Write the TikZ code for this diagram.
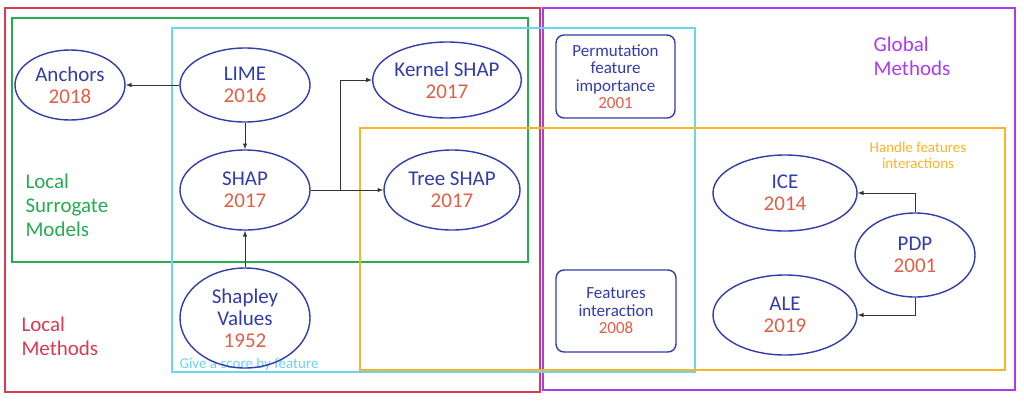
\documentclass[tikz,border=0pt]{standalone}
\usepackage{fontspec}
\setmainfont{Carlito}
\usetikzlibrary{shapes.geometric}
\definecolor{nodeblue}{RGB}{50,60,170}
\definecolor{yearred}{RGB}{225,95,70}
\definecolor{localred}{RGB}{215,60,80}
\definecolor{globalpurple}{RGB}{170,60,240}
\definecolor{surrgreen}{RGB}{40,170,80}
\definecolor{scorecyan}{RGB}{110,210,240}
\definecolor{interorange}{RGB}{250,180,40}
\newcommand{\yr}[1]{\\{\color{yearred}#1}}
\tikzset{
  method/.style={ellipse,draw=nodeblue,line width=1.4pt,text=nodeblue,align=center,
    inner sep=0pt,font=\fontsize{21}{22}\selectfont},
  methodbox/.style={rectangle,rounded corners=8pt,draw=nodeblue,line width=1.4pt,text=nodeblue,
    align=center,inner sep=0pt,font=\fontsize{17}{17.5}\selectfont},
  area/.style={line width=1.4pt},
  arealabel/.style={align=left,font=\fontsize{21}{24}\selectfont},
  link/.style={->,>=latex,line width=1pt,black!80}
}
\begin{document}
\begin{tikzpicture}[x=1pt,y=-1pt]
  \useasboundingbox (0,0) rectangle (1024,402);
  \fill[white] (0,0) rectangle (1024,402);

  % les zones
  \draw[area,localred] (5,8) rectangle (540,392);
  \draw[area,globalpurple] (543,8) rectangle (1015,390);
  \draw[area,surrgreen] (12,18) rectangle (528,262);
  \draw[area,scorecyan] (172,28) rectangle (695,372);
  \draw[area,interorange] (360,128) rectangle (1005,370);

  % les textes des zones
  \node[arealabel,text=surrgreen,anchor=west] (surr) at (22,205) {Local\\Surrogate\\Models};
  \node[arealabel,text=localred,anchor=west] (local) at (18,336) {Local\\Methods};
  \node[arealabel,text=globalpurple] (global) at (912,56) {Global\\Methods};
  \node[align=center,text=interorange,font=\fontsize{15}{16}\selectfont] (handle) at (918,155) {Handle features\\interactions};
  \node[text=scorecyan,font=\fontsize{15}{16}\selectfont,anchor=west] (score) at (176,364) {Give a score by feature};

  % les méthodes
  \node[method,minimum width=110pt,minimum height=70pt] (anchors) at (70,85) {Anchors\yr{2018}};
  \node[method,minimum width=130pt,minimum height=74pt] (lime) at (245,85) {LIME\yr{2016}};
  \node[method,minimum width=140pt,minimum height=76pt] (kernel) at (447,80) {Kernel SHAP\yr{2017}};
  \node[method,minimum width=130pt,minimum height=80pt] (shap) at (245,190) {SHAP\yr{2017}};
  \node[method,minimum width=136pt,minimum height=80pt] (tree) at (452,190) {Tree SHAP\yr{2017}};
  \node[method,minimum width=130pt,minimum height=100pt] (shapley) at (245,318) {Shapley\\Values\yr{1952}};
  \node[methodbox,minimum width=119pt,minimum height=83pt] (perm) at (615.5,76.5) {Permutation\\feature\\importance\yr{2001}};
  \node[methodbox,minimum width=120pt,minimum height=82pt] (featint) at (616,311) {Features\\interaction\yr{2008}};
  \node[method,minimum width=144pt,minimum height=76pt] (ice) at (785,193) {ICE\yr{2014}};
  \node[method,minimum width=120pt,minimum height=84pt] (pdp) at (915,255) {PDP\yr{2001}};
  \node[method,minimum width=144pt,minimum height=80pt] (ale) at (785,315) {ALE\yr{2019}};

  % les flèches
  \draw[link] (lime) -- (anchors);
  \draw[link] (lime) -- (shap);
  \draw[link] (shapley) -- (shap);
  \draw[link] (shap) -- (tree);
  \coordinate (split) at (340,190);
  \draw[link] (split) |- (kernel);
  \draw[link] (pdp.north) |- (ice.east);
  \draw[link] (pdp.south) |- (ale.east);
\end{tikzpicture}
\end{document}
